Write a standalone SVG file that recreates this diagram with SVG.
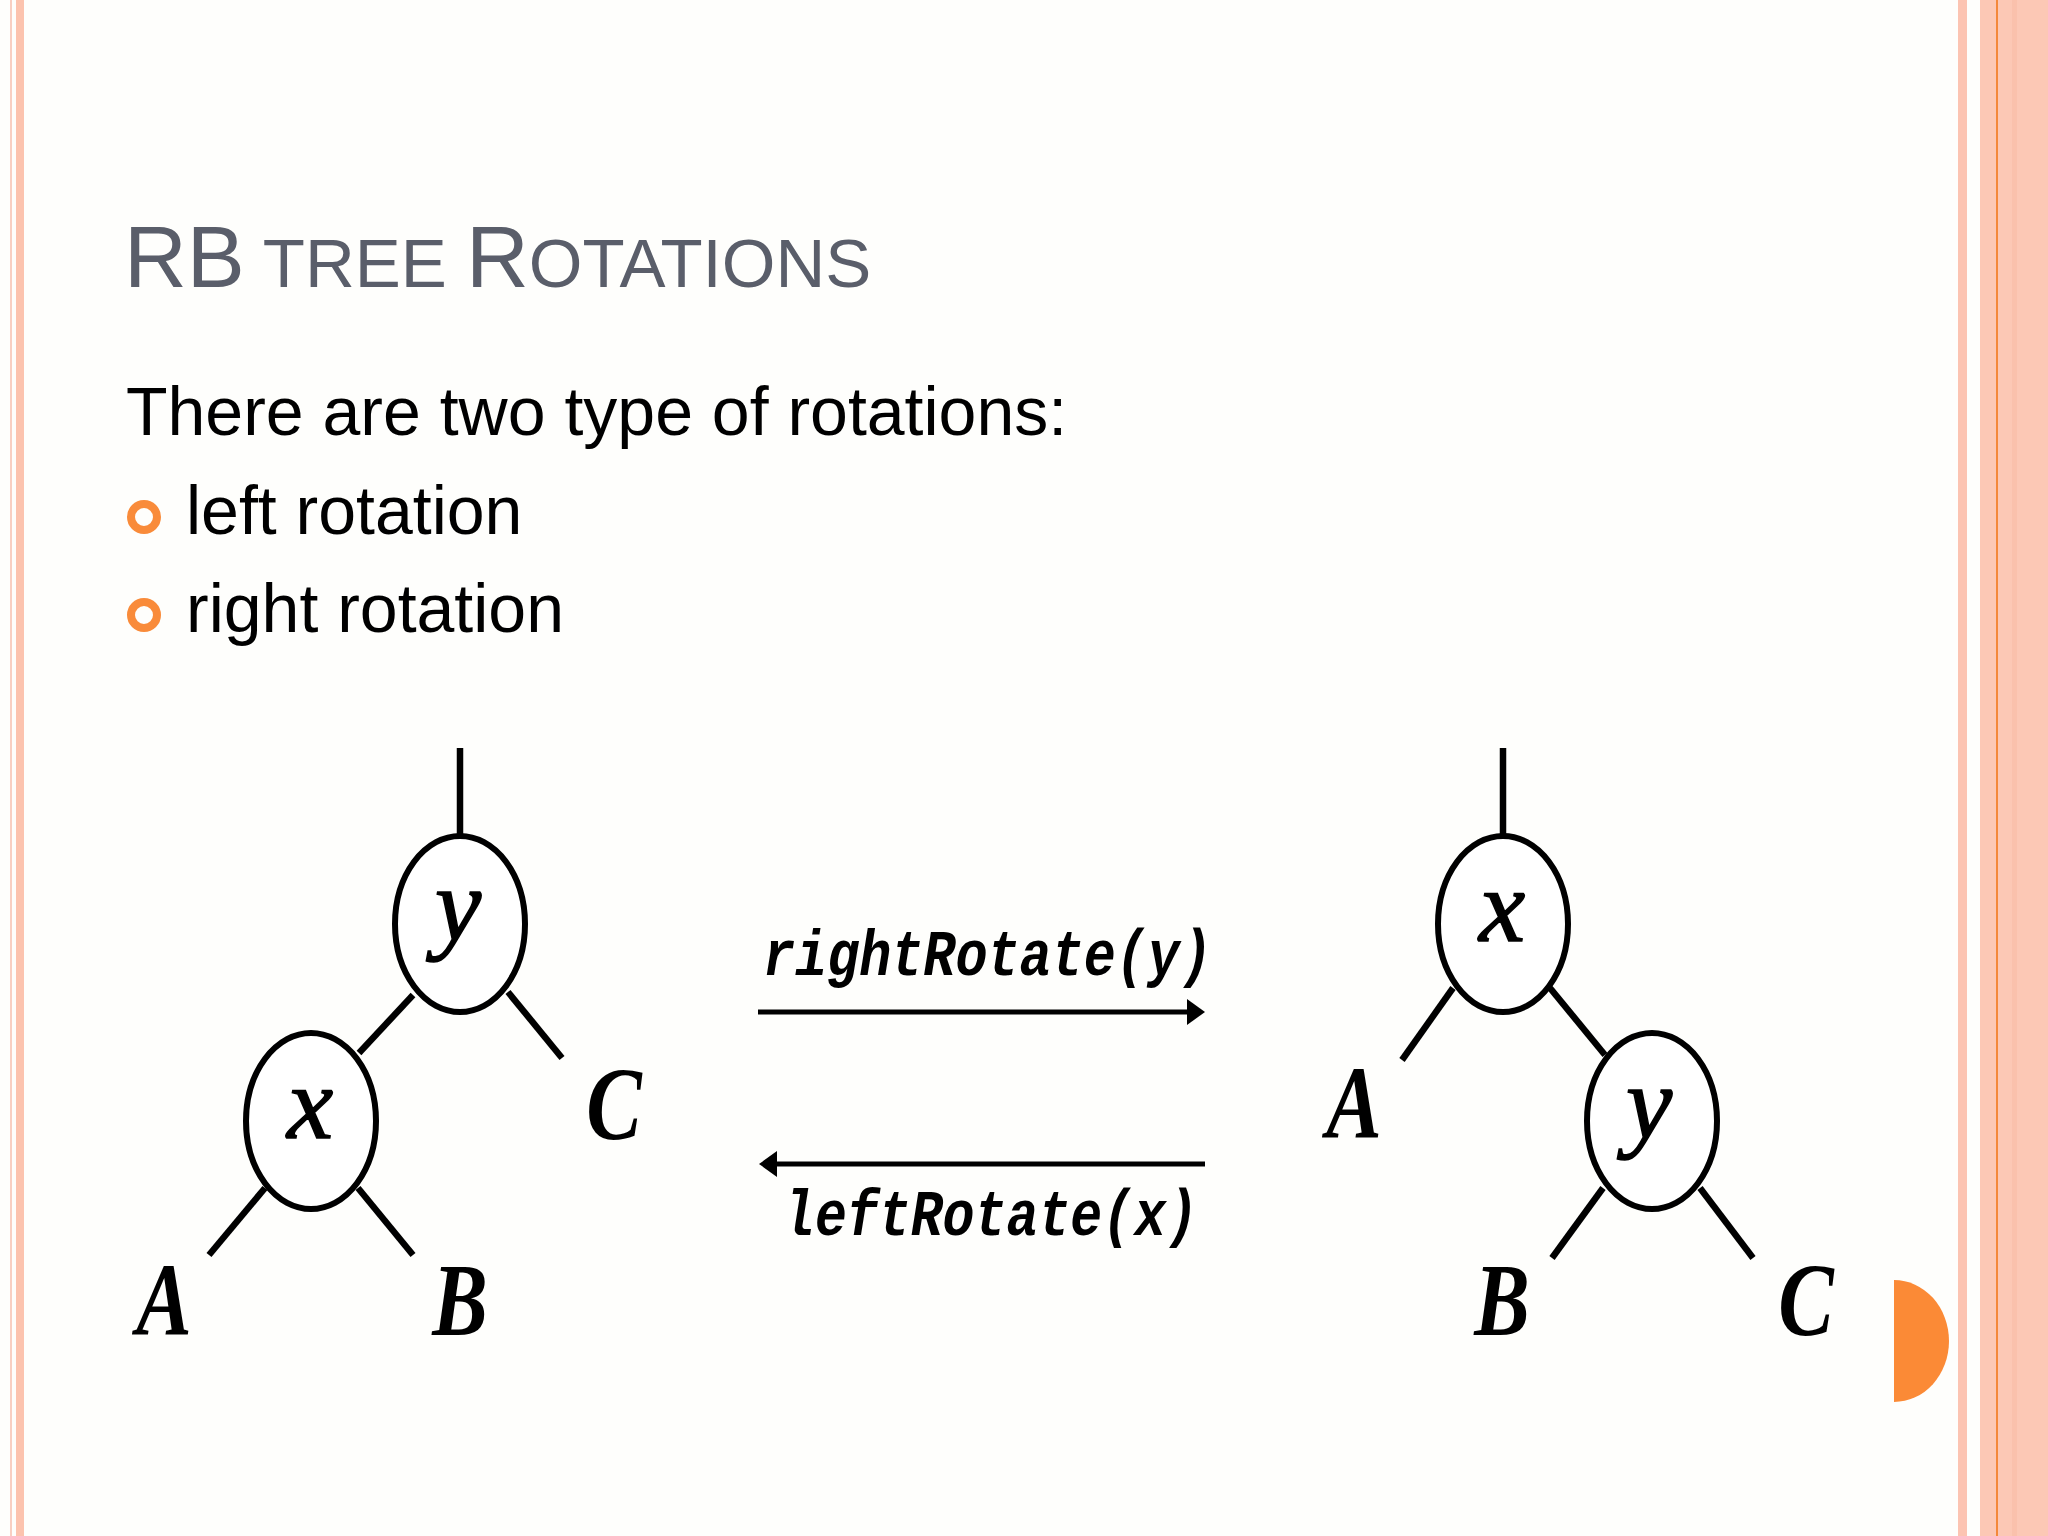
<svg xmlns="http://www.w3.org/2000/svg" width="2048" height="1536" viewBox="0 0 2048 1536">
<style>
.title{font-family:"Liberation Sans",Arial,sans-serif;fill:#5A5E6A}
.body{font-family:"Liberation Sans",Arial,sans-serif;font-size:68px;fill:#000}
.lbl{font-family:"Liberation Serif","Times New Roman",serif;font-style:italic;font-weight:bold;font-size:104px;fill:#000;text-anchor:middle}
.var{font-family:"Liberation Serif","Times New Roman",serif;font-style:italic;font-weight:normal;font-size:104px;fill:#000;text-anchor:middle;stroke:#000;stroke-width:1.5}
.code{font-family:"Liberation Mono","Courier New",monospace;font-style:italic;font-weight:bold;font-size:64px;fill:#000}
.node{fill:#fff;stroke:#000;stroke-width:6}
.edge{stroke:#000;stroke-width:6.5;fill:none}
.arr{stroke:#000;stroke-width:5;fill:none}
.bullet{fill:none;stroke:#F98B3A;stroke-width:8}
</style>
<rect x="0" y="0" width="2048" height="1536" fill="#FEFEFC"/>
<!-- left border -->
<rect x="10" y="0" width="2" height="1536" fill="#F8CFC2"/>
<rect x="16" y="0" width="8" height="1536" fill="#FCC3AE"/>
<!-- right border -->
<rect x="1958" y="0" width="9" height="1536" fill="#FCC4B2"/>
<rect x="1980" y="0" width="68" height="1536" fill="#FCC8B5"/>
<rect x="2012" y="0" width="5" height="1536" fill="#FAC1AC"/>
<rect x="1996" y="0" width="2" height="1536" fill="#F4883A"/>
<path d="M1894,1280 A55,61 0 0 1 1894,1402 Z" fill="#FB8A36"/>

<g id="title">
<text class="title" x="124" y="287" font-size="87">RB<tspan font-size="69"> TREE </tspan>R<tspan font-size="69">OTATIONS</tspan></text>
</g>
<g id="body">
<text class="body" x="126" y="435">There are two type of rotations:</text>
<circle class="bullet" cx="144" cy="517" r="13"/>
<text class="body" x="186" y="534">left rotation</text>
<circle class="bullet" cx="144" cy="615" r="13"/>
<text class="body" x="186" y="632">right rotation</text>
</g>

<g id="connectors">
<line class="edge" x1="460" y1="748" x2="460" y2="836"/>
<line class="edge" x1="413" y1="995" x2="359" y2="1053"/>
<line class="edge" x1="508" y1="992" x2="562" y2="1058"/>
<line class="edge" x1="265" y1="1188" x2="209" y2="1255"/>
<line class="edge" x1="358" y1="1188" x2="413" y2="1255"/>
<line class="edge" x1="1503" y1="748" x2="1503" y2="836"/>
<line class="edge" x1="1453" y1="988" x2="1402" y2="1060"/>
<line class="edge" x1="1550" y1="988" x2="1605" y2="1055"/>
<line class="edge" x1="1603" y1="1188" x2="1552" y2="1258"/>
<line class="edge" x1="1700" y1="1188" x2="1753" y2="1258"/>
<line class="arr" x1="758" y1="1012" x2="1190" y2="1012"/>
<polygon points="1187,999 1205,1012 1187,1025" fill="#000"/>
<line class="arr" x1="774" y1="1164" x2="1205" y2="1164"/>
<polygon points="777,1151 759,1164 777,1177" fill="#000"/>
</g>

<g id="left-y">
<ellipse class="node" cx="460" cy="924" rx="65" ry="88"/>
<text class="var" x="458" y="940">y</text>
</g>
<g id="left-x">
<ellipse class="node" cx="311" cy="1121" rx="65" ry="88"/>
<text class="var" x="310" y="1138">x</text>
</g>
<g id="left-A"><text class="lbl" transform="translate(164,1335) scale(0.8,1)">A</text></g>
<g id="left-B"><text class="lbl" transform="translate(460,1335) scale(0.8,1)">B</text></g>
<g id="left-C"><text class="lbl" transform="translate(614,1139) scale(0.8,1)">C</text></g>

<g id="right-x">
<ellipse class="node" cx="1503" cy="924" rx="65" ry="88"/>
<text class="var" x="1502" y="941">x</text>
</g>
<g id="right-y">
<ellipse class="node" cx="1652" cy="1121" rx="65" ry="88"/>
<text class="var" x="1649" y="1138">y</text>
</g>
<g id="right-A"><text class="lbl" transform="translate(1354,1138) scale(0.8,1)">A</text></g>
<g id="right-B"><text class="lbl" transform="translate(1502,1335) scale(0.8,1)">B</text></g>
<g id="right-C"><text class="lbl" transform="translate(1806,1335) scale(0.8,1)">C</text></g>

<g id="label-right-rotate">
<text class="code" x="763" y="975" textLength="449" lengthAdjust="spacingAndGlyphs">rightRotate(y)</text>
</g>
<g id="label-left-rotate">
<text class="code" x="783" y="1235" textLength="415" lengthAdjust="spacingAndGlyphs">leftRotate(x)</text>
</g>
</svg>
